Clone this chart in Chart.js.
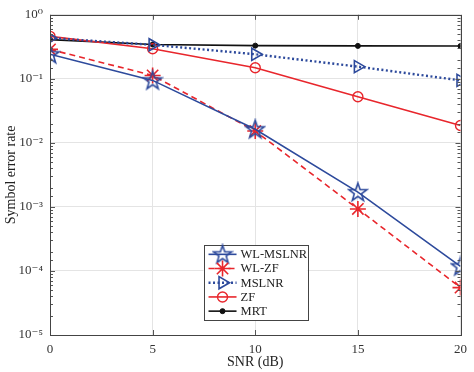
<!DOCTYPE html>
<html>
<head>
<meta charset="utf-8">
<script src="https://cdn.jsdelivr.net/npm/chart.js"></script>
<style>
  html, body { margin: 0; padding: 0; background: #fff; }
  #wrap { width: 474px; height: 372px; }
</style>
</head>
<body>
<div id="wrap"><canvas id="serChart" width="474" height="372"></canvas></div>
<script>
// ===== Data =====
const snr = [0, 5, 10, 15, 20];
const serWlMslnr = [0.242, 0.0946, 0.0163, 0.0017, 0.000118];
const serWlZf = [0.288, 0.113, 0.0153, 0.00093, 0.000055];
const serMslnr = [0.434, 0.34, 0.242, 0.155, 0.0946];
const serZf = [0.46, 0.295, 0.149, 0.0525, 0.0187];
const serMrt = [0.41, 0.344, 0.33, 0.327, 0.325];
const xTicks = [0, 5, 10, 15, 20];
const supers = { '-': '\u207B', '0': '\u2070', '1': '\u00B9', '2': '\u00B2', '3': '\u00B3', '4': '\u2074', '5': '\u2075' };

const BLUE = '#2d4a9c';
const RED = '#e8262c';
const FONT = "'Liberation Serif', 'DejaVu Serif', serif";

// pentagram marker for WL-MSLNR
function makePentagram(color) {
  const c = document.createElement('canvas');
  c.width = 22; c.height = 22;
  const g = c.getContext('2d');
  const R = 9.5, r = R * 0.40;
  g.beginPath();
  for (let i = 0; i < 10; i++) {
    const a = -Math.PI / 2 + i * Math.PI / 5;
    const rad = i % 2 === 0 ? R : r;
    const px = 11 + rad * Math.cos(a), py = 11.5 + rad * Math.sin(a);
    if (i === 0) g.moveTo(px, py); else g.lineTo(px, py);
  }
  g.closePath();
  g.strokeStyle = color;
  g.lineWidth = 1.6;
  g.stroke();
  return c;
}
const pentagram = makePentagram(BLUE);

const toXY = arr => arr.map((v, i) => ({ x: snr[i], y: v }));
const isDecade = v => Math.abs(Math.log10(v) - Math.round(Math.log10(v))) < 1e-9;

// box + inward tick marks like a matlab axes
const boxPlugin = {
  id: 'boxTicks',
  afterDraw(chart) {
    const { ctx, chartArea: ca, scales } = chart;
    ctx.save();
    ctx.strokeStyle = '#555';
    ctx.lineWidth = 1;
    scales.y.ticks.forEach(t => {
      const y = Math.round(scales.y.getPixelForValue(t.value)) + 0.5;
      const len = isDecade(t.value) ? 5 : 3;
      ctx.beginPath();
      ctx.moveTo(ca.left, y); ctx.lineTo(ca.left + len, y);
      ctx.moveTo(ca.right, y); ctx.lineTo(ca.right - len, y);
      ctx.stroke();
    });
    scales.x.ticks.forEach(t => {
      const x = Math.round(scales.x.getPixelForValue(t.value)) + 0.5;
      ctx.beginPath();
      ctx.moveTo(x, ca.bottom); ctx.lineTo(x, ca.bottom - 5);
      ctx.moveTo(x, ca.top); ctx.lineTo(x, ca.top + 5);
      ctx.stroke();
    });
    ctx.strokeStyle = '#444';
    ctx.strokeRect(Math.round(ca.left) + 0.5, Math.round(ca.top) + 0.5,
      Math.round(ca.right - ca.left), Math.round(ca.bottom - ca.top));
    ctx.restore();
  }
};

// legend drawn inside the plot area
const innerLegend = {
  id: 'innerLegend',
  afterDraw(chart) {
    const { ctx, chartArea: ca } = chart;
    const ds = chart.data.datasets;
    const x0 = ca.left + ca.width * 0.374;
    const y0 = ca.top + ca.height * 0.72;
    const rowH = 14.2, w = 104, h = rowH * ds.length + 4;
    ctx.save();
    ctx.fillStyle = '#fff';
    ctx.fillRect(x0, y0, w, h);
    ctx.strokeStyle = '#444';
    ctx.lineWidth = 1;
    ctx.strokeRect(Math.round(x0) + 0.5, Math.round(y0) + 0.5, w, h);
    ds.forEach((d, i) => {
      const cy = y0 + 9 + i * rowH;
      ctx.strokeStyle = d.borderColor;
      ctx.lineWidth = d.borderWidth;
      ctx.setLineDash(d.borderDash || []);
      ctx.beginPath();
      ctx.moveTo(x0 + 5, cy); ctx.lineTo(x0 + 33, cy);
      ctx.stroke();
      ctx.setLineDash([]);
      ctx.strokeStyle = d.borderColor;
      ctx.fillStyle = d.pointBackgroundColor;
      ctx.lineWidth = d.pointBorderWidth;
      Chart.helpers.drawPoint(ctx, {
        pointStyle: d.pointStyle, rotation: d.pointRotation || 0,
        radius: d.pointRadius, borderWidth: d.pointBorderWidth
      }, x0 + 19, cy);
      ctx.fillStyle = '#222';
      ctx.font = '12.5px ' + FONT;
      ctx.textBaseline = 'middle';
      ctx.fillText(d.label, x0 + 37, cy + 0.5);
    });
    ctx.restore();
  }
};

new Chart(document.getElementById('serChart'), {
  type: 'line',
  data: {
    datasets: [
      { label: 'WL-MSLNR', data: toXY(serWlMslnr), borderColor: BLUE, borderWidth: 1.6,
        pointStyle: pentagram, pointRadius: 9, pointBorderWidth: 1.6, pointBackgroundColor: 'rgba(0,0,0,0)' },
      { label: 'WL-ZF', data: toXY(serWlZf), borderColor: RED, borderWidth: 1.6, borderDash: [6, 4],
        pointStyle: 'star', pointRadius: 8, pointBorderWidth: 1.6, pointBackgroundColor: 'rgba(0,0,0,0)' },
      { label: 'MSLNR', data: toXY(serMslnr), borderColor: BLUE, borderWidth: 2.4, borderDash: [2, 2.5],
        pointStyle: 'triangle', pointRotation: 90, pointRadius: 7, pointBorderWidth: 1.6, pointBackgroundColor: 'rgba(0,0,0,0)' },
      { label: 'ZF', data: toXY(serZf), borderColor: RED, borderWidth: 1.6,
        pointStyle: 'circle', pointRadius: 5, pointBorderWidth: 1.4, pointBackgroundColor: 'rgba(0,0,0,0)' },
      { label: 'MRT', data: toXY(serMrt), borderColor: '#111', borderWidth: 1.6,
        pointStyle: 'circle', pointRadius: 2.5, pointBorderWidth: 1, pointBackgroundColor: '#111' }
    ]
  },
  options: {
    responsive: false,
    animation: false,
    layout: { padding: { top: 8, right: 9, left: 0, bottom: 0 } },
    plugins: { legend: { display: false }, tooltip: { enabled: false } },
    elements: { line: { tension: 0 } },
    scales: {
      x: {
        type: 'linear', min: 0, max: 20,
        afterBuildTicks: s => { s.ticks = xTicks.map(v => ({ value: v })); },
        afterFit: s => { s.height = 37; },
        grid: { color: '#e4e4e4', drawTicks: false },
        border: { display: false },
        ticks: { padding: 7, color: '#333', font: { family: FONT, size: 13 } },
        title: { display: true, text: 'SNR (dB)', color: '#222', padding: { top: 0, bottom: 1 },
          font: { family: FONT, size: 14 } }
      },
      y: {
        type: 'logarithmic', min: 1e-5, max: 1,
        afterFit: s => { s.width = 50; },
        grid: { color: c => isDecade(c.tick.value) ? '#e4e4e4' : 'rgba(0,0,0,0)', drawTicks: false },
        border: { display: false },
        ticks: {
          autoSkip: false, padding: 7, color: '#333', font: { family: FONT, size: 13 },
          callback: v => isDecade(v) ? '10' + String(Math.round(Math.log10(v))).split('').map(ch => supers[ch]).join('') : ''
        },
        title: { display: true, text: 'Symbol error rate', color: '#222', padding: { top: 3, bottom: 0 },
          font: { family: FONT, size: 14 } }
      }
    }
  },
  plugins: [boxPlugin, innerLegend]
});
</script>
</body>
</html>
